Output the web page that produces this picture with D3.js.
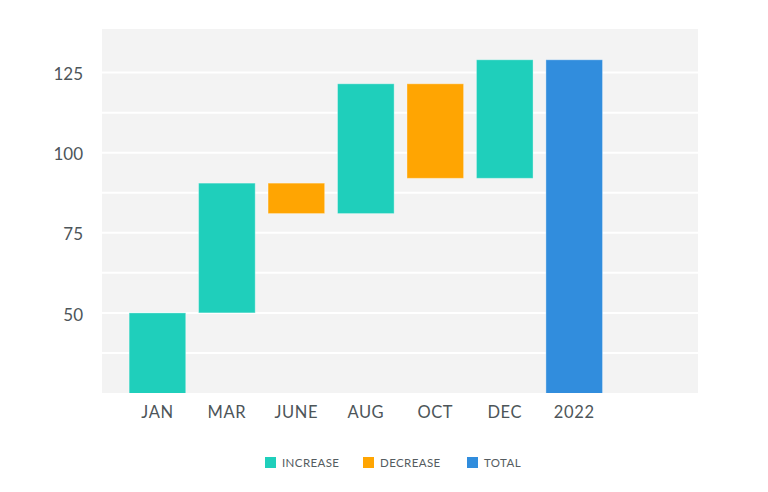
<!DOCTYPE html>
<html>
<head>
<meta charset="utf-8">
<script src="https://cdn.jsdelivr.net/npm/d3@7"></script>
<style>
    body { margin: 0; background: #fff; }
    svg text { font-family: Lato, "Open Sans", sans-serif; }
</style>
</head>
<body>
<script>
// chart data
const categories = ['JAN', 'MAR', 'JUNE', 'AUG', 'OCT', 'DEC'];
const changes = [50, 40.5, -9.5, 40.5, -29.5, 37];
const totalLabel = '2022';
const yLabelTicks = [50, 75, 100, 125];
const gridTicks = [37.5, 50, 62.5, 75, 87.5, 100, 112.5, 125];
const legendItems = ['INCREASE', 'DECREASE', 'TOTAL'];

var width = 768,
    height = 492,
    plotLeft = 102,
    plotTop = 29,
    plotW = 596,
    plotH = 364;

var colors = { INCREASE: '#1fcfbb', DECREASE: '#ffa502', TOTAL: '#318ddd' };

// build waterfall rows
var running = 0;
var rows = categories.map((c, i) => {
    var start = running;
    running += changes[i];
    return { name: c, y0: start, y1: running, type: changes[i] >= 0 ? 'INCREASE' : 'DECREASE' };
});
rows.push({ name: totalLabel, y0: 0, y1: running, type: 'TOTAL' });

var step = plotW / 8.58;
var xScale = d3.scaleBand()
    .domain(rows.map(r => r.name))
    .range([20.7, 20.7 + step * rows.length])
    .paddingInner(0.185)
    .paddingOuter(0.0925);

var yScale = d3.scaleLinear()
    .domain([25, 138.6])
    .range([plotH, 0]);

var svg = d3.select('body').append('svg')
    .attr('width', width)
    .attr('height', height);

var g = svg.append('g').attr('transform', `translate(${plotLeft}, ${plotTop})`);

g.append('rect')
    .attr('width', plotW)
    .attr('height', plotH)
    .attr('fill', '#f3f3f3');

g.selectAll('.grid')
    .data(gridTicks)
    .enter()
    .append('line')
    .attr('class', 'grid')
    .attr('x1', 0)
    .attr('x2', plotW)
    .attr('y1', d => yScale(d))
    .attr('y2', d => yScale(d))
    .attr('stroke', '#fff')
    .attr('stroke-width', 2);

g.append('defs').append('clipPath').attr('id', 'clip')
    .append('rect').attr('width', plotW).attr('height', plotH);

g.append('g').attr('clip-path', 'url(#clip)')
    .selectAll('rect')
    .data(rows)
    .enter()
    .append('rect')
    .attr('x', d => xScale(d.name))
    .attr('width', xScale.bandwidth())
    .attr('y', d => yScale(Math.max(d.y0, d.y1)))
    .attr('height', d => Math.abs(yScale(d.y0) - yScale(d.y1)))
    .attr('fill', d => colors[d.type])
    .attr('stroke', 'rgba(255,255,255,0.35)')
    .attr('stroke-width', 1);

var yAxis = d3.axisLeft(yScale).tickValues(yLabelTicks).tickSize(0).tickPadding(19);
var yAxisGroup = g.append('g').call(yAxis);
yAxisGroup.select('.domain').remove();
yAxisGroup.selectAll('text')
    .attr('fill', '#4d5559')
    .attr('font-size', 17)
    .attr('dy', '0.42em');

var xAxis = d3.axisBottom(xScale).tickSize(0).tickPadding(13);
var xAxisGroup = g.append('g')
    .attr('transform', `translate(0, ${plotH})`)
    .call(xAxis);
xAxisGroup.select('.domain').remove();
xAxisGroup.selectAll('text')
    .attr('fill', '#4d5559')
    .attr('font-size', 16.5)
    .attr('letter-spacing', 0.6);

// legend
var legendX = [265, 363, 467];
var legend = svg.append('g').selectAll('g')
    .data(legendItems)
    .enter()
    .append('g')
    .attr('transform', (d, i) => `translate(${legendX[i]}, 457)`);

legend.append('rect')
    .attr('width', 11)
    .attr('height', 11)
    .attr('fill', d => colors[d]);

legend.append('text')
    .attr('x', 17)
    .attr('y', 10)
    .attr('font-size', 11.5)
    .attr('letter-spacing', 0.4)
    .attr('fill', '#555c60')
    .text(d => d);
</script>
</body>
</html>
